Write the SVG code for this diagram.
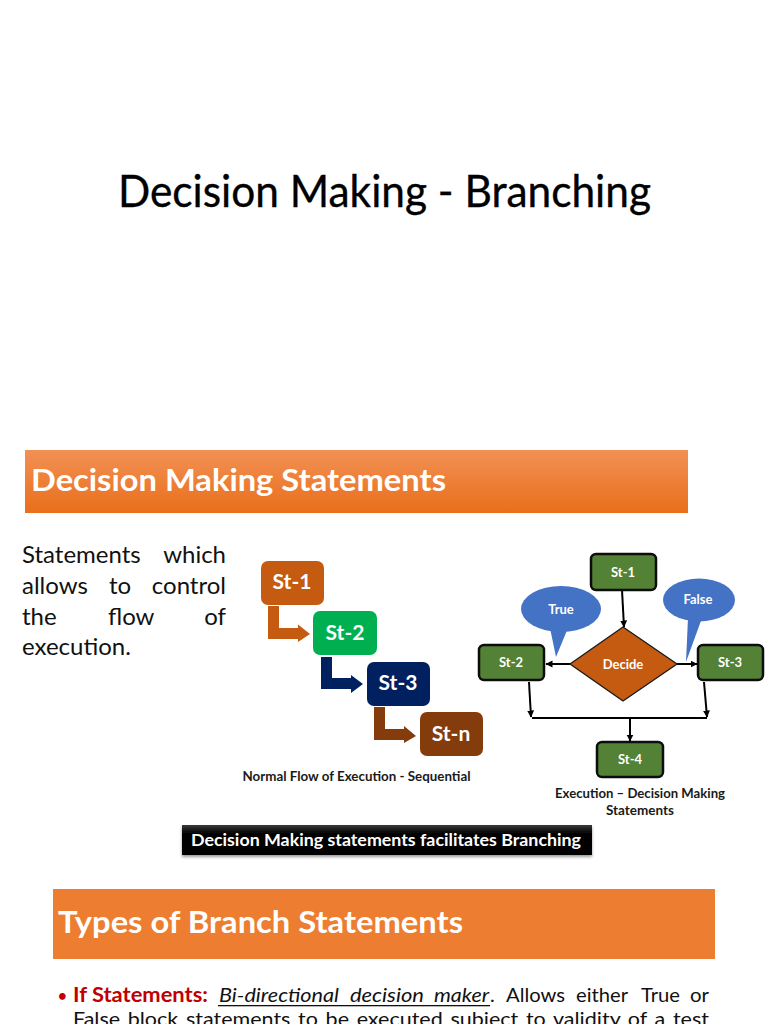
<svg xmlns="http://www.w3.org/2000/svg" width="768" height="1024" viewBox="0 0 768 1024">
<style>
text{font-family:"Lato","Liberation Sans",sans-serif}
.w{fill:#fff;font-weight:700;text-anchor:middle}
.big{font-size:21px}
.sm{font-size:13px}
.bx{fill:#538135;stroke:#0d0d0d;stroke-width:2.5}
.cap{font-size:12.5px;font-weight:700;fill:#1a1a1a;text-anchor:middle}
.body{font-size:24px;fill:#111}
.li{font-size:20px;fill:#111}
.ln{fill:none;stroke:#000;stroke-width:2}
.ar{fill:none;stroke:#000;stroke-width:2;marker-end:url(#ah)}
</style>
<defs>
<linearGradient id="g" x1="0" y1="0" x2="0" y2="1"><stop offset="0" stop-color="#F29055"/><stop offset="1" stop-color="#E96F1A"/></linearGradient>
<linearGradient id="k" x1="0" y1="0" x2="0" y2="1"><stop offset="0" stop-color="#3a3a3a"/><stop offset=".3" stop-color="#000"/><stop offset="1" stop-color="#000"/></linearGradient>
<marker id="ah" markerWidth="8" markerHeight="8" refX="6.5" refY="3.5" orient="auto" markerUnits="userSpaceOnUse"><path d="M0 0L7 3.5L0 7z" fill="#000"/></marker>
<filter id="sh" x="-5%" y="-20%" width="110%" height="150%"><feDropShadow dx="0" dy="2" stdDeviation="1.5" flood-color="#000" flood-opacity=".4"/></filter>
</defs>
<text id="title" x="118" y="207" font-size="44" textLength="533" lengthAdjust="spacingAndGlyphs" fill="#000" stroke="#000" stroke-width=".35">Decision Making - Branching</text>

<g id="heading-1"><rect x="25" y="450" width="663" height="63" fill="url(#g)"/>
<text x="31" y="491" font-size="31" font-weight="700" fill="#fff" textLength="415" lengthAdjust="spacingAndGlyphs">Decision Making Statements</text></g>

<g id="intro">
<text class="body" x="22" y="563">Statements</text><text class="body" x="226" y="563" text-anchor="end">which</text>
<text class="body" x="22" y="594">allows</text><text class="body" x="109" y="594">to</text><text class="body" x="226" y="594" text-anchor="end">control</text>
<text class="body" x="22" y="625">the</text><text class="body" x="108" y="625">flow</text><text class="body" x="226" y="625" text-anchor="end">of</text>
<text class="body" x="22" y="655">execution.</text>
</g>

<g id="seq-connectors">
<path d="M268 606H279V628H298V624.500L310 634L298 642V639H268z" fill="#C55A11"/>
<path d="M321 657H332V678H351V675L363 684L351 693V689H321z" fill="#002060"/>
<path d="M374 707H385V729H404V726L416 736L404 743V740H374z" fill="#843C0C"/>
</g>
<g id="seq-1"><rect x="261" y="561" width="63" height="44" rx="7" fill="#C55A11"/><text class="w big" x="292" y="589">St-1</text></g>
<g id="seq-2"><rect x="313" y="611" width="64" height="44" rx="7" fill="#00B050"/><text class="w big" x="345" y="640">St-2</text></g>
<g id="seq-3"><rect x="367" y="662" width="63" height="44" rx="7" fill="#002060"/><text class="w big" x="398" y="690">St-3</text></g>
<g id="seq-n"><rect x="420" y="712" width="63" height="44" rx="7" fill="#843C0C"/><text class="w big" x="451" y="741">St-n</text></g>
<text class="cap" x="356.500" y="781" textLength="228" lengthAdjust="spacingAndGlyphs">Normal Flow of Execution - Sequential</text>

<g id="connectors">
<path class="ar" d="M622 590L624 627"/>
<path class="ar" d="M570 664H546"/>
<path class="ar" d="M677 664H697"/>
<path class="ar" d="M529 682L531 717"/>
<path class="ar" d="M704 682L707 717"/>
<path class="ln" d="M532 718H707"/>
<path class="ar" d="M630 718V741"/>
</g>
<g id="true-callout"><ellipse cx="561" cy="609" rx="40" ry="23" fill="#4472C4"/><path d="M550 628L556 657L568 628z" fill="#4472C4"/><text class="w sm" x="561" y="614">True</text></g>
<g id="false-callout"><ellipse cx="699" cy="600" rx="36" ry="21.500" fill="#4472C4"/><path d="M688 618L686 662L702 618z" fill="#4472C4"/><text class="w sm" x="698" y="604">False</text></g>
<g id="st-1"><rect class="bx" x="591" y="554" width="65" height="36" rx="5"/><text class="w sm" x="623" y="577">St-1</text></g>
<g id="st-2"><rect class="bx" x="479" y="645" width="65" height="35" rx="5"/><text class="w sm" x="511" y="667">St-2</text></g>
<g id="st-3"><rect class="bx" x="698" y="645" width="65" height="35" rx="5"/><text class="w sm" x="730" y="667">St-3</text></g>
<g id="st-4"><rect class="bx" x="597" y="742" width="66" height="35" rx="5"/><text class="w sm" x="630" y="764">St-4</text></g>
<g id="decide"><path d="M570 664L623 627L677 664L623 701z" fill="#C55A11" stroke="#1a1a1a" stroke-width="1.300"/><text class="w sm" x="623" y="669">Decide</text></g>
<text class="cap" x="640" y="798" textLength="170" lengthAdjust="spacingAndGlyphs">Execution – Decision Making</text>
<text class="cap" x="640" y="815" textLength="68" lengthAdjust="spacingAndGlyphs">Statements</text>

<g id="banner"><rect x="182" y="825" width="410" height="30" fill="url(#k)" filter="url(#sh)"/>
<text x="386" y="846" class="w" font-size="17" textLength="390" lengthAdjust="spacingAndGlyphs">Decision Making statements facilitates Branching</text></g>

<g id="heading-2"><rect x="53" y="889" width="662" height="70" fill="#ED7D31"/>
<text x="58" y="933" font-size="31" font-weight="700" fill="#fff" textLength="405" lengthAdjust="spacingAndGlyphs">Types of Branch Statements</text></g>

<g id="list">
<text x="58" y="1001" font-size="15" font-weight="700" fill="#C00000">•</text>
<text x="73" y="1002" font-size="20" font-weight="700" fill="#C00000" textLength="135" lengthAdjust="spacingAndGlyphs">If Statements:</text>
<text x="219" y="1002" class="li" font-style="italic" textLength="120" lengthAdjust="spacingAndGlyphs">Bi-directional</text>
<text x="350" y="1002" class="li" font-style="italic" textLength="74" lengthAdjust="spacingAndGlyphs">decision</text>
<text x="434" y="1002" class="li" font-style="italic" textLength="55" lengthAdjust="spacingAndGlyphs">maker</text>
<rect x="218" y="1005" width="272" height="1.300" fill="#111"/>
<text x="490" y="1002" class="li">.</text>
<text x="506" y="1002" class="li" textLength="59" lengthAdjust="spacingAndGlyphs">Allows</text>
<text x="576" y="1002" class="li" textLength="52" lengthAdjust="spacingAndGlyphs">either</text>
<text x="641" y="1002" class="li" textLength="39" lengthAdjust="spacingAndGlyphs">True</text>
<text x="690" y="1002" class="li" textLength="19" lengthAdjust="spacingAndGlyphs">or</text>
<text x="73" y="1026" class="li" textLength="636" lengthAdjust="spacingAndGlyphs" word-spacing="2">False block statements to be executed subject to validity of a test</text>
</g>
</svg>
